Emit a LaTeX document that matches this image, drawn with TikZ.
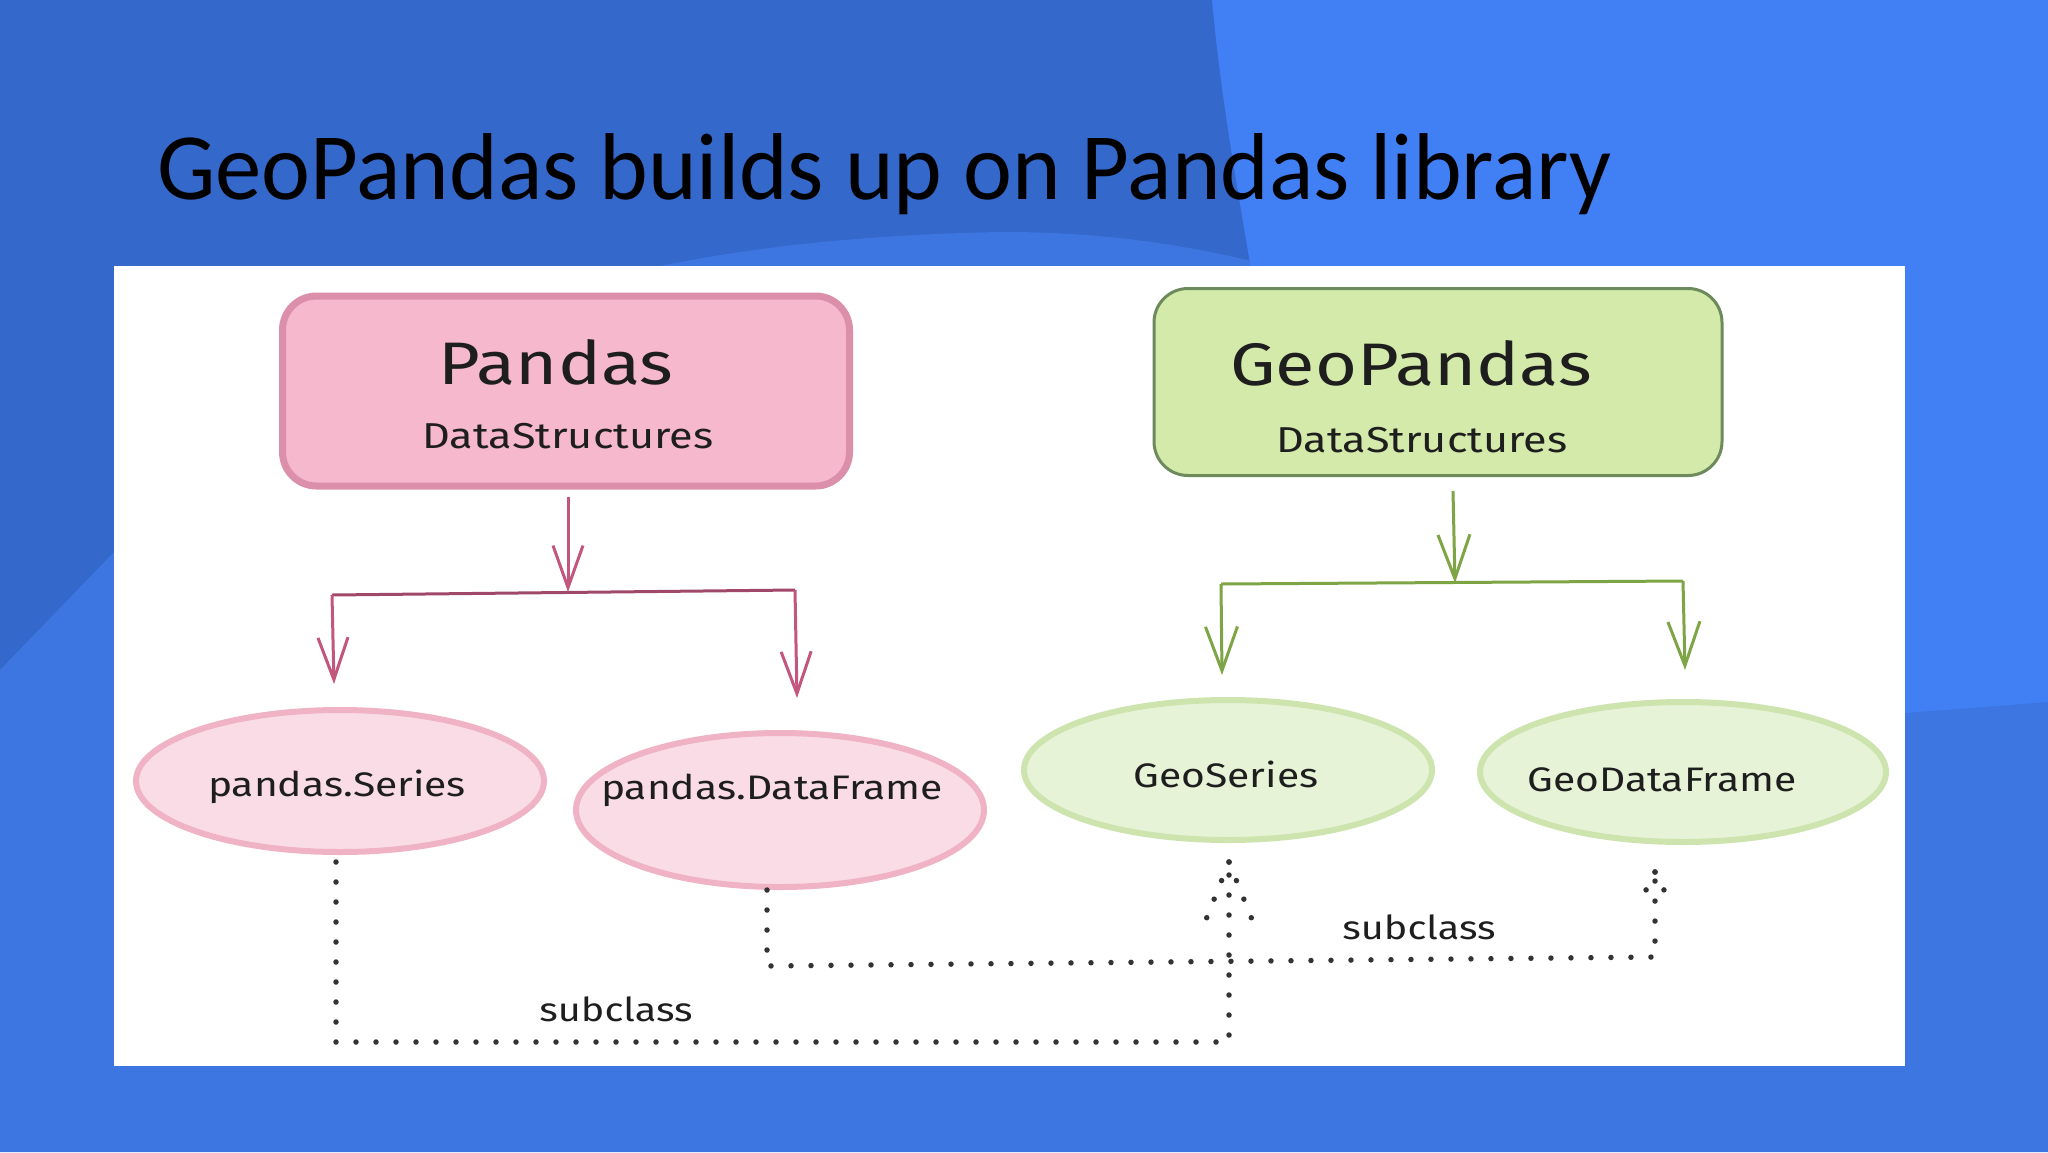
\documentclass[tikz,border=0pt]{standalone}
\usepackage{fontspec}
\setmainfont{Carlito}
\newfontfamily\titlefont[FakeStretch=0.975]{Carlito}
\newfontfamily\hand[FakeStretch=1.2]{Fira Sans}
\usetikzlibrary{arrows.meta,shapes.geometric}
\definecolor{bgdark}{HTML}{3468CB}
\definecolor{bgbright}{HTML}{417FF5}
\definecolor{bgmid}{HTML}{3D76E0}
\definecolor{pinkfill}{HTML}{F5B8CC}
\definecolor{pinkdraw}{HTML}{DB8FAA}
\definecolor{pinkellfill}{HTML}{FADCE6}
\definecolor{pinkelldraw}{HTML}{F0B2C5}
\definecolor{pinkarrow}{HTML}{C2567C}
\definecolor{pinkbar}{HTML}{A0486A}
\definecolor{greenfill}{HTML}{D3EAAA}
\definecolor{greendraw}{HTML}{6E8A5C}
\definecolor{greenellfill}{HTML}{E7F3D7}
\definecolor{greenelldraw}{HTML}{CDE4AE}
\definecolor{greenarrow}{HTML}{7EA545}
\definecolor{inkcol}{HTML}{1E1E1E}
\definecolor{dotcol}{HTML}{333333}
\begin{document}
\begin{tikzpicture}[x=1pt,y=-1pt,
  pboxstyle/.style={draw=pinkdraw, fill=pinkfill, line width=7pt, rounded corners=34pt, minimum width=567pt, minimum height=190pt, inner sep=0pt},
  gboxstyle/.style={draw=greendraw, fill=greenfill, line width=3pt, rounded corners=34pt, minimum width=568pt, minimum height=187pt, inner sep=0pt},
  pellstyle/.style={ellipse, draw=pinkelldraw, fill=pinkellfill, line width=6pt, inner sep=0pt},
  gellstyle/.style={ellipse, draw=greenelldraw, fill=greenellfill, line width=6pt, inner sep=0pt},
  handtxt/.style={text=inkcol, inner sep=0pt, anchor=base},
  parrow/.style={draw=pinkarrow, line width=3pt, -{Straight Barb[length=42pt,width=30pt]}},
  garrow/.style={draw=greenarrow, line width=3pt, -{Straight Barb[length=44pt,width=32pt]}},
  dotline/.style={draw=dotcol, line width=5.5pt, line cap=round, dash pattern=on 0pt off 20pt}
]
\useasboundingbox (0,0) rectangle (2048,1152);
% background
\fill[bgdark] (0,0) rectangle (2048,1152);
\fill[bgmid] (0,670) -- (114,552) .. controls (350,330) and (600,240) .. (1000,232)
  .. controls (1400,230) and (1700,450) .. (2048,700) -- (2048,1152) -- (0,1152) -- cycle;
\fill[bgbright] (1212,0) -- (2048,0) -- (2048,702) -- (1905,713) -- (1265,740) -- (1256,300)
  .. controls (1240,200) and (1222,110) .. (1212,0) -- cycle;
\fill[white] (114,266) rectangle (1905,1066);
% title
\node[anchor=base west, inner sep=0pt, font=\titlefont\fontsize{95}{100}\selectfont, text=black] (title) at (157,199) {GeoPandas builds up on Pandas library};
% boxes
\node[pboxstyle] (pbox) at (566,391) {};
\node[gboxstyle] (gbox) at (1438,382) {};
\node[handtxt, font=\hand\fontsize{60}{64}\selectfont] (ptitle) at (556,384) {Pandas};
\node[handtxt, font=\hand\fontsize{36}{40}\selectfont] (psub) at (568,448) {DataStructures};
\node[handtxt, font=\hand\fontsize{60}{64}\selectfont] (gtitle) at (1411,385) {GeoPandas};
\node[handtxt, font=\hand\fontsize{36}{40}\selectfont] (gsub) at (1422,452) {DataStructures};
% ellipses
\node[pellstyle, minimum width=408pt, minimum height=142pt] (pseries) at (340,781) {};
\node[pellstyle, minimum width=408pt, minimum height=154pt] (pframe) at (780,810) {};
\node[gellstyle, minimum width=408pt, minimum height=140pt] (gseries) at (1228,770) {};
\node[gellstyle, minimum width=406pt, minimum height=140pt] (gframe) at (1683,772) {};
\node[handtxt, font=\hand\fontsize{34}{38}\selectfont] (tseries) at (337,796) {pandas.Series};
\node[handtxt, font=\hand\fontsize{34}{38}\selectfont] (tframe) at (772,799) {pandas.DataFrame};
\node[handtxt, font=\hand\fontsize{34}{38}\selectfont] (tgseries) at (1226,787) {GeoSeries};
\node[handtxt, font=\hand\fontsize{34}{38}\selectfont] (tgframe) at (1662,791) {GeoDataFrame};
% pink tree
\coordinate (pbarmid) at (568,592);
\coordinate (pbarL) at (332,595);
\coordinate (pbarR) at (795,590);
\coordinate (pendL) at (334,684);
\coordinate (pendR) at (797,698);
\draw[parrow] (568,497) -- (pbarmid);
\draw[draw=pinkbar, line width=3pt] (pbarL) -- (pbarR);
\draw[parrow] (pbarL) -- (pendL);
\draw[parrow] (pbarR) -- (pendR);
% green tree
\coordinate (gbarmid) at (1455,583);
\coordinate (gbarL) at (1221,584);
\coordinate (gbarR) at (1683,581);
\coordinate (gendL) at (1222,675);
\coordinate (gendR) at (1685,670);
\draw[garrow] (1453,491) -- (gbarmid);
\draw[draw=greenarrow, line width=3pt] (gbarL) -- (gbarR);
\draw[garrow] (gbarL) -- (gendL);
\draw[garrow] (gbarR) -- (gendR);
% subclass dotted connectors
\coordinate (s1a) at (336,862);
\coordinate (s1b) at (336,1042);
\coordinate (s1c) at (1229,1042);
\coordinate (s1apex) at (1229,862);
\coordinate (s2a) at (767,890);
\coordinate (s2b) at (767,966);
\coordinate (s2c) at (1655,957);
\coordinate (s2apex) at (1655,872);
\draw[dotline] (s1a) -- (s1b) -- (s1c) -- (s1apex);
\draw[dotline] (s1apex) -- ++(-24,60);
\draw[dotline] (s1apex) -- ++(24,60);
\draw[dotline] (s2a) -- (s2b) -- (s2c) -- (s2apex);
\draw[dotline] (s2apex) -- ++(-16,32);
\draw[dotline] (s2apex) -- ++(16,32);
\node[handtxt, font=\hand\fontsize{33}{36}\selectfont] (lab1) at (616,1021) {subclass};
\node[handtxt, font=\hand\fontsize{33}{36}\selectfont] (lab2) at (1419,939) {subclass};
\end{tikzpicture}
\end{document}
